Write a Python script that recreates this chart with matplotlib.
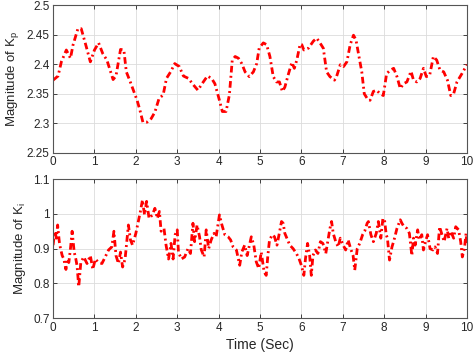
import numpy as np
import matplotlib
matplotlib.use('Agg')
from matplotlib import pyplot as plt

plt.rcParams['font.family'] = ['Liberation Sans', 'DejaVu Sans']

# Kp trace (time, value)
kp_t = [0.0, 0.12, 0.2, 0.32, 0.42, 0.48, 0.6, 0.68, 0.8, 0.9, 1.0, 1.1, 1.2, 1.3,
        1.45, 1.52, 1.63, 1.71, 1.77, 1.85, 1.94, 2.03, 2.1, 2.17, 2.27, 2.37, 2.46,
        2.56, 2.66, 2.74, 2.84, 2.94, 3.05, 3.15, 3.27, 3.39, 3.5, 3.6, 3.73, 3.83,
        3.91, 4.02, 4.09, 4.18, 4.26, 4.33, 4.4, 4.48, 4.56, 4.64, 4.74, 4.84, 4.92,
        4.98, 5.08, 5.16, 5.24, 5.32, 5.4, 5.47, 5.54, 5.6, 5.69, 5.77, 5.83, 5.89,
        5.97, 6.01, 6.06, 6.17, 6.29, 6.37, 6.45, 6.53, 6.61, 6.69, 6.8, 6.85, 6.94,
        7.02, 7.1, 7.18, 7.26, 7.32, 7.4, 7.46, 7.52, 7.6, 7.66, 7.74, 7.82, 7.9,
        7.98, 8.06, 8.15, 8.23, 8.31, 8.39, 8.47, 8.55, 8.65, 8.71, 8.79, 8.87, 8.95,
        9.02, 9.1, 9.19, 9.27, 9.35, 9.44, 9.53, 9.61, 9.68, 9.76, 9.88, 10.0]
kp_v = [2.373, 2.38, 2.404, 2.424, 2.41, 2.432, 2.46, 2.46, 2.43, 2.404, 2.424, 2.436,
        2.418, 2.407, 2.374, 2.38, 2.425, 2.424, 2.387, 2.373, 2.356, 2.339, 2.322,
        2.302, 2.302, 2.308, 2.319, 2.342, 2.348, 2.376, 2.387, 2.401, 2.396, 2.38,
        2.376, 2.365, 2.356, 2.367, 2.38, 2.376, 2.367, 2.339, 2.32, 2.32, 2.348,
        2.407, 2.413, 2.41, 2.401, 2.387, 2.379, 2.387, 2.401, 2.427, 2.436, 2.433,
        2.413, 2.379, 2.37, 2.37, 2.354, 2.361, 2.384, 2.403, 2.393, 2.407, 2.434,
        2.433, 2.424, 2.427, 2.439, 2.444, 2.436, 2.427, 2.387, 2.379, 2.373, 2.379,
        2.399, 2.396, 2.404, 2.433, 2.449, 2.441, 2.41, 2.387, 2.35, 2.341, 2.339,
        2.354, 2.356, 2.35, 2.347, 2.384, 2.39, 2.393, 2.379, 2.359, 2.367, 2.37,
        2.388, 2.373, 2.37, 2.376, 2.393, 2.379, 2.381, 2.413, 2.407, 2.39, 2.387,
        2.373, 2.347, 2.35, 2.37, 2.384, 2.399]

# Ki trace (time, value)
ki_t = [0.0, 0.04, 0.08, 0.11, 0.15, 0.18, 0.22, 0.26, 0.31, 0.35, 0.38, 0.42, 0.46,
        0.51, 0.55, 0.58, 0.62, 0.67, 0.74, 0.82, 0.9, 0.96, 1.02, 1.1, 1.18, 1.26,
        1.34, 1.42, 1.47, 1.52, 1.58, 1.63, 1.68, 1.74, 1.82, 1.87, 1.92, 2.0, 2.06,
        2.11, 2.16, 2.21, 2.26, 2.32, 2.4, 2.46, 2.52, 2.57, 2.61, 2.68, 2.73, 2.79,
        2.85, 2.9, 2.95, 3.0, 3.03, 3.1, 3.18, 3.26, 3.32, 3.38, 3.42, 3.48, 3.54,
        3.58, 3.65, 3.7, 3.76, 3.82, 3.89, 3.94, 4.02, 4.08, 4.15, 4.23, 4.29, 4.35,
        4.43, 4.51, 4.56, 4.63, 4.69, 4.79, 4.85, 4.91, 4.97, 5.03, 5.1, 5.15, 5.19,
        5.23, 5.3, 5.35, 5.41, 5.46, 5.52, 5.56, 5.6, 5.65, 5.72, 5.8, 5.88, 5.94,
        6.0, 6.06, 6.1, 6.15, 6.2, 6.24, 6.28, 6.34, 6.4, 6.46, 6.52, 6.59, 6.65,
        6.69, 6.73, 6.77, 6.83, 6.89, 6.94, 7.01, 7.07, 7.13, 7.19, 7.25, 7.29, 7.35,
        7.41, 7.48, 7.53, 7.59, 7.62, 7.68, 7.74, 7.81, 7.86, 7.92, 7.97, 8.01, 8.05,
        8.08, 8.13, 8.19, 8.24, 8.31, 8.39, 8.43, 8.48, 8.55, 8.61, 8.67, 8.71, 8.75,
        8.81, 8.85, 8.91, 8.95, 9.0, 9.05, 9.11, 9.18, 9.23, 9.29, 9.34, 9.4, 9.45,
        9.52, 9.56, 9.61, 9.68, 9.73, 9.8, 9.85, 9.89, 9.94, 9.98, 10.0]
ki_v = [0.91, 0.95, 0.93, 0.968, 0.92, 0.9, 0.88, 0.87, 0.84, 0.87, 0.86, 0.9, 0.95,
        0.89, 0.87, 0.85, 0.79, 0.86, 0.876, 0.857, 0.88, 0.84, 0.87, 0.86, 0.857,
        0.876, 0.896, 0.905, 0.95, 0.88, 0.857, 0.89, 0.847, 0.87, 0.968, 0.925,
        0.91, 0.944, 0.978, 1.007, 1.04, 0.997, 1.036, 0.987, 0.997, 1.016, 0.987,
        1.007, 0.95, 0.958, 0.91, 0.87, 0.915, 0.87, 0.94, 0.954, 0.89, 0.87, 0.876,
        0.9, 0.886, 0.973, 0.92, 0.968, 0.934, 0.897, 0.876, 0.954, 0.9, 0.925, 0.944,
        0.934, 0.997, 0.968, 0.94, 0.934, 0.925, 0.905, 0.896, 0.852, 0.89, 0.91, 0.88,
        0.934, 0.91, 0.862, 0.843, 0.89, 0.833, 0.823, 0.88, 0.925, 0.94, 0.934, 0.91,
        0.94, 0.978, 0.973, 0.944, 0.93, 0.91, 0.9, 0.886, 0.872, 0.852, 0.823, 0.872,
        0.915, 0.88, 0.823, 0.88, 0.896, 0.886, 0.92, 0.915, 0.886, 0.93, 0.958, 0.978,
        0.944, 0.92, 0.905, 0.93, 0.91, 0.896, 0.925, 0.9, 0.88, 0.838, 0.9, 0.915,
        0.94, 0.95, 0.973, 0.978, 0.94, 0.92, 0.944, 0.978, 0.93, 0.987, 0.983, 0.94,
        0.93, 0.867, 0.905, 0.925, 0.958, 0.983, 0.973, 0.963, 0.958, 0.944, 0.88,
        0.93, 0.91, 0.954, 0.925, 0.94, 0.896, 0.92, 0.94, 0.9, 0.896, 0.905, 0.886,
        0.963, 0.94, 0.92, 0.958, 0.93, 0.95, 0.93, 0.963, 0.954, 0.92, 0.876, 0.9,
        0.944, 0.91]

xticks = np.arange(0, 11, 1)
kp_ticks = [2.25, 2.3, 2.35, 2.4, 2.45, 2.5]
kp_labels = ['2.25', '2.3', '2.35', '2.4', '2.45', '2.5']
ki_ticks = [0.7, 0.8, 0.9, 1.0, 1.1]
ki_labels = ['0.7', '0.8', '0.9', '1', '1.1']

fig = plt.figure(figsize=(4.74, 3.59), dpi=100)
ax1 = fig.add_axes([0.112, 0.574, 0.873, 0.412])
ax2 = fig.add_axes([0.112, 0.114, 0.873, 0.387])

edge = '#262626'
dash = (2.4, 1.2, 0.7, 1.2)
for ax in (ax1, ax2):
    ax.set_xlim(0, 10)
    ax.set_xticks(xticks)
    ax.grid(True, color='#dcdcdc', linewidth=0.6)
    ax.set_axisbelow(True)
    ax.tick_params(direction='in', length=3, width=0.6, colors=edge,
                   labelsize=8.5, top=True, right=True, pad=2.5)
    for s in ax.spines.values():
        s.set_color('#555555')
        s.set_linewidth(0.8)

ax1.plot(kp_t, kp_v, color='#ff0000', linestyle='-.', dashes=dash, linewidth=2)
ax1.set_ylim(2.25, 2.5)
ax1.set_yticks(kp_ticks)
ax1.set_yticklabels(kp_labels)
ax1.set_ylabel('Magnitude of K$_\\mathregular{p}$', fontsize=9.5, color=edge)

ax2.plot(ki_t, ki_v, color='#ff0000', linestyle='-.', dashes=dash, linewidth=2)
ax2.set_ylim(0.7, 1.1)
ax2.set_yticks(ki_ticks)
ax2.set_yticklabels(ki_labels)
ax2.set_ylabel('Magnitude of K$_\\mathregular{i}$', fontsize=9.5, color=edge)
ax2.set_xlabel('Time (Sec)', fontsize=10, color=edge, labelpad=3)

fig.align_ylabels([ax1, ax2])
fig.savefig('out.png', dpi=100)
